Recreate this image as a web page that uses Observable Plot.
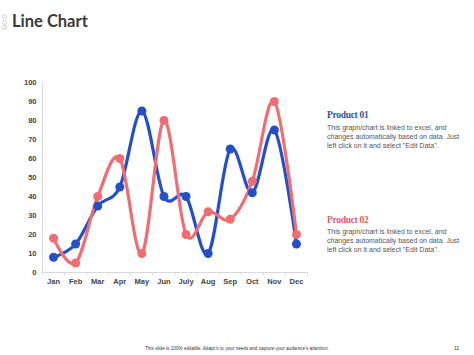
<!DOCTYPE html>
<html><head><meta charset="utf-8">
<script src="https://cdn.jsdelivr.net/npm/d3@7"></script>
<script src="https://cdn.jsdelivr.net/npm/@observablehq/plot@0.6"></script>
<style>
body{margin:0;background:#fff;}
#page{position:relative;width:474px;height:355px;overflow:hidden;font-family:"Liberation Sans",Arial,sans-serif;}
.abs{position:absolute;white-space:nowrap;}
#title{left:12px;top:11px;font-family:Lato,"Liberation Sans",sans-serif;font-weight:bold;font-size:16.5px;color:#3a3a3a;}
.dot{position:absolute;left:2px;width:3px;height:3px;border:1px solid #e0c8cc;border-radius:50%;}
.ph{font-family:"Liberation Serif","DejaVu Serif",serif;font-weight:bold;font-size:9.5px;letter-spacing:-0.3px;}
.desc{font-size:7px;line-height:9px;color:#555;}
.small{font-size:9px;color:#333;transform:scale(0.52);transform-origin:0 0;}
#chart{position:absolute;left:0;top:60px;}
</style></head>
<body><div id="page">
<div class="dot" style="top:14px"></div>
<div class="dot" style="top:19.5px"></div>
<div class="dot" style="top:25px"></div>
<div id="title" class="abs">Line Chart</div>
<div id="chart"></div>
<div class="abs ph" style="left:327px;top:110px;color:#2f5597;">Product 01</div>
<div class="abs desc" style="left:327px;top:123px;">This graph/chart is linked to excel, and<br>changes automatically based on data. Just<br>left click on it and select "Edit Data".</div>
<div class="abs ph" style="left:327px;top:215px;color:#d9606a;">Product 02</div>
<div class="abs desc" style="left:327px;top:227px;">This graph/chart is linked to excel, and<br>changes automatically based on data. Just<br>left click on it and select "Edit Data".</div>
<div class="abs small" style="left:145px;top:346px;">This slide is 100% editable. Adapt it to your needs and capture your audience's attention.</div>
<div class="abs small" style="left:454px;top:346px;">12</div>
</div>
<script>
const months = ["Jan","Feb","Mar","Apr","May","Jun","July","Aug","Sep","Oct","Nov","Dec"];
const product01 = [8, 15, 35, 45, 85, 40, 40, 10, 65, 42, 75, 15];
const product02 = [18, 5, 40, 60, 10, 80, 20, 32, 28, 48, 90, 20];
const yTicks = [0,10,20,30,40,50,60,70,80,90,100];
const seriesNames = ["Product 01","Product 02"];
const seriesColors = ["#2450c6","#ef6e73"];

const rows = [];
[product01, product02].forEach((vals, s) => vals.forEach((v, i) => rows.push({series: seriesNames[s], i, value: v})));
const idx = d3.range(months.length);
const bounds = d3.range(months.length + 1).map(k => k - 0.5);

const chart = Plot.plot({
  width: 320, height: 240,
  marginTop: 22, marginBottom: 28, marginLeft: 42, marginRight: 13,
  style: {fontFamily: '"Liberation Sans", Arial, sans-serif', fontSize: "7.5px", color: "#404040", background: "transparent"},
  x: {type: "linear", domain: [-0.5, months.length - 0.5]},
  y: {domain: [0, 100]},
  color: {domain: seriesNames, range: seriesColors},
  marks: [
    Plot.axisY({ticks: yTicks, tickSize: 0, tickPadding: 6, label: null, fontWeight: "bold", fill: "#444"}),
    Plot.axisX({ticks: idx, tickSize: 0, tickPadding: 6, tickFormat: i => months[i], label: null, fontWeight: "bold", fill: "#444"}),
    Plot.ruleY([0], {stroke: "#d9d9d9", strokeWidth: 1}),
    Plot.ruleX([-0.5], {stroke: "#d9d9d9", strokeWidth: 1, y1: 0, y2: 100}),
    Plot.ruleX(bounds, {stroke: "#d9d9d9", y1: 0, y2: -1.8}),
    Plot.line(rows, {x: "i", y: "value", z: "series", stroke: "series", curve: "cardinal", strokeWidth: 3.2}),
    Plot.dot(rows, {x: "i", y: "value", fill: "series", r: 4.5})
  ]
});
document.getElementById("chart").appendChild(chart);
</script>
</body></html>
